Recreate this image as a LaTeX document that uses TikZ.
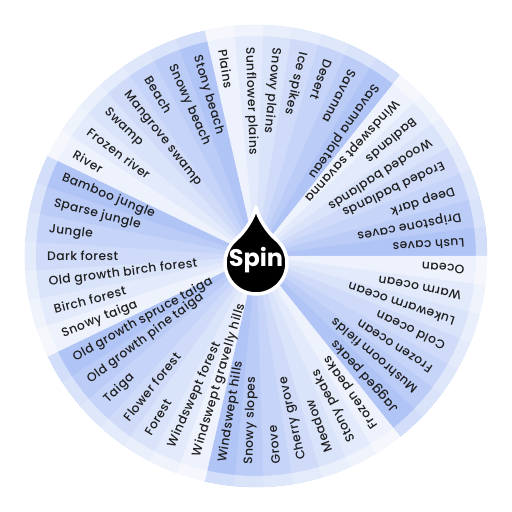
\documentclass[tikz,border=0pt]{standalone}
\usepackage{fontspec}
\setmainfont{Poppins}
\newfontfamily\lblfont{Poppins Medium}[LetterSpace=3.5]
\usetikzlibrary{calc}
\begin{document}
\begin{tikzpicture}[x=1pt,y=1pt]
\useasboundingbox (-256,-256) rectangle (256,256);
\definecolor{c0}{HTML}{EEF2FC}
\definecolor{c1}{HTML}{E3EAFB}
\definecolor{c2}{HTML}{D9E3FA}
\definecolor{c3}{HTML}{CFDBF9}
\definecolor{c4}{HTML}{C5D4F8}
\definecolor{c5}{HTML}{BBCCF7}
\definecolor{c6}{HTML}{B0C4F6}
\definecolor{txt}{HTML}{1E1E1E}
\tikzset{
  lbl/.style={anchor=west, font=\lblfont\fontsize{12.3}{13}\selectfont, text=txt, inner sep=0pt},
  band/.style={fill=white, opacity=0.45},
  knob/.style={fill=black, draw=white, line width=3.5pt, line join=round},
  spintext/.style={text=white, font=\fontsize{24}{27}\selectfont\bfseries, inner sep=0pt}
}
\def\w{7.3469387755}
\def\R{231}
\def\names{Plains, Sunflower plains, Snowy plains, Ice spikes, Desert, Savanna, Savanna plateau, Windswept savanna, Badlands, Wooded badlands, Eroded badlands, Deep dark, Dripstone caves, Lush caves, Ocean, Warm ocean, Lukewarm ocean, Cold ocean, Frozen ocean, Mushroom fields, Jagged peaks, Frozen peaks, Stony peaks, Meadow, Cherry grove, Grove, Snowy slopes, Windswept hills, Windswept gravelly hills, Windswept forest, Forest, Flower forest, Taiga, Old growth pine taiga, Old growth spruce taiga, Snowy taiga, Birch forest, Old growth birch forest, Dark forest, Jungle, Sparse jungle, Bamboo jungle, River, Frozen river, Swamp, Mangrove swamp, Beach, Snowy beach, Stony beach}
% segments
\foreach \i in {0,...,48} {
  \pgfmathtruncatemacro\ci{mod(\i,7)}
  \pgfmathsetmacro\a{(14-\i)*\w}
  \pgfmathsetmacro\b{(13-\i)*\w}
  \fill[c\ci, draw=c\ci, line width=0.4pt] (0,0) -- (\a:\R) arc[start angle=\a, end angle=\b, radius=\R] -- cycle;
}
% outer light band
\fill[band, even odd rule] (0,0) circle[radius=\R] (0,0) circle[radius=220];
% labels
\foreach \name [count=\j from 0] in \names {
  \pgfmathsetmacro\m{(13.5-\j)*\w}
  \node[lbl, rotate=\m+180] (l\j) at (\m:209) {\name};
}
% knob
\coordinate (kc) at (0,-7);
\path[knob] (0,49) .. controls (1.5,39) and (12,23) .. ($(kc)+(50:31)$)
  arc[start angle=50, end angle=-230, radius=31]
  .. controls (-12,23) and (-1.5,39) .. (0,49) -- cycle;
\node[spintext] (spin) at (0,-4) {Spin};
\end{tikzpicture}
\end{document}
